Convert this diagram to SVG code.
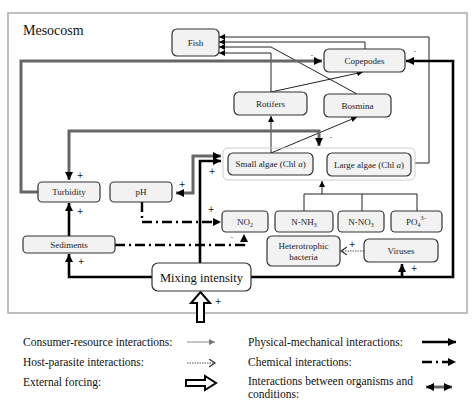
<svg xmlns="http://www.w3.org/2000/svg" width="474" height="404" viewBox="0 0 474 404">
<defs>
<style>
.box{fill:#f2f2f2;stroke:#333;stroke-width:1.2}
.lbl{font-family:"Liberation Serif",serif;font-size:9px;fill:#222;text-anchor:middle}
.leg{font-family:"Liberation Serif",serif;font-size:11.5px;fill:#111}
.sgn{font-family:"Liberation Serif",serif;font-size:7px;fill:#111;text-anchor:middle}
.pls{font-family:"DejaVu Sans",sans-serif;font-size:8px;fill:#111;text-anchor:middle}
.thin{fill:none;stroke:#222;stroke-width:1}
.blk{fill:none;stroke:#000;stroke-width:2.6}
.gry{fill:none;stroke:#666;stroke-width:3}
.chem{fill:none;stroke:#000;stroke-width:2.4;stroke-dasharray:10 4 2 4}
.dot{fill:none;stroke:#555;stroke-width:1;stroke-dasharray:1.5 1}
</style>
<marker id="as" markerUnits="userSpaceOnUse" markerWidth="7" markerHeight="7" refX="6" refY="3" orient="auto"><path d="M0,0 L6,3 L0,6 z" fill="#000"/></marker>
<marker id="ag" markerUnits="userSpaceOnUse" markerWidth="7" markerHeight="7" refX="6" refY="3" orient="auto"><path d="M0,0 L6,3 L0,6 z" fill="#777"/></marker>
<marker id="at" markerUnits="userSpaceOnUse" markerWidth="9" markerHeight="9" refX="8" refY="4" orient="auto"><path d="M0,0 L8,4 L0,8 z" fill="#000"/></marker>
<marker id="ats" markerUnits="userSpaceOnUse" markerWidth="9" markerHeight="9" refX="0" refY="4" orient="auto"><path d="M8,0 L0,4 L8,8 z" fill="#000"/></marker>
<marker id="ao" markerUnits="userSpaceOnUse" markerWidth="8" markerHeight="9" refX="6" refY="4" orient="auto"><path d="M0,0 L6,4 L0,8" fill="none" stroke="#333" stroke-width="1.2"/></marker>
</defs>
<rect width="474" height="404" fill="#fff"/>
<rect x="8" y="13" width="459" height="300" fill="none" stroke="#aaa" stroke-width="1.5"/>
<text x="23" y="35" font-family="Liberation Serif,serif" font-size="14" fill="#111">Mesocosm</text>

<g id="connectors">
<path class="thin" d="M415,163 H429 V37 H219" marker-end="url(#as)"/>
<path class="thin" d="M365,49 V42 H219" marker-end="url(#as)"/>
<path class="thin" d="M357,94 L271,47 H219" marker-end="url(#as)"/>
<path class="thin" d="M271,92 V53 H219" marker-end="url(#as)"/>
<path class="thin" d="M271,92 L363,72" marker-end="url(#as)"/>
<path class="thin" d="M271,153 V116" marker-end="url(#as)"/>
<path class="thin" d="M271,153 L357,117" marker-end="url(#as)"/>
<path class="thin" d="M304,211 V194 H417 V211 M362,211 V194 M322,194 V181" marker-end="url(#as)"/>
<path class="gry" d="M38,192 H21 V61 H322" marker-end="url(#at)"/>
<path class="gry" d="M319,146 V131 H69 V180" marker-start="url(#ats)" marker-end="url(#at)"/>
<path class="gry" d="M176,193 H193 V156 H221" marker-start="url(#ats)" marker-end="url(#at)"/>
<path class="blk" d="M200,263 V161 H221" marker-end="url(#at)"/>
<path class="blk" d="M69,236 V203" marker-end="url(#at)"/>
<path class="blk" d="M152,277 H69 V254" marker-end="url(#at)"/>
<path class="blk" d="M251,277 H453 V61 H406" marker-end="url(#at)"/>
<path class="blk" d="M402,277 V264" marker-end="url(#at)"/>
<path class="chem" d="M142,202 V222 H221" marker-end="url(#at)"/>
<path class="chem" d="M115,245 H244 V234" marker-end="url(#at)"/>
<path class="dot" d="M364,251 H341" marker-end="url(#ao)"/>
<path d="M197,322 V303 H191 L200.5,292 L210,303 H204 V322 z" fill="#fff" stroke="#000" stroke-width="2"/>
<text class="sgn" x="312" y="57">-</text>
<text class="sgn" x="415" y="53">-</text>
<text class="sgn" x="331" y="139">-</text>
<text class="pls" x="80" y="178">+</text>
<text class="pls" x="80" y="214">+</text>
<text class="pls" x="81" y="264">+</text>
<text class="pls" x="182" y="187">+</text>
<text class="pls" x="212" y="174">+</text>
<text class="pls" x="211" y="212">+</text>
<text class="sgn" x="232" y="239">-</text>
<text class="pls" x="352" y="247">+</text>
<text class="pls" x="414" y="271">+</text>
<text class="pls" x="218" y="304">+</text>
</g>

<rect id="algae-group" x="223" y="148" width="192" height="32" rx="5" fill="none" stroke="#ccc" stroke-width="1"/>

<g id="fish"><rect class="box" x="172" y="29" width="47" height="27" rx="5"/><text class="lbl" x="195.5" y="45.5">Fish</text></g>
<g id="copepodes"><rect class="box" x="324" y="49" width="81" height="23" rx="5"/><text class="lbl" x="364.5" y="63.5">Copepodes</text></g>
<g id="rotifers"><rect class="box" x="234" y="92" width="73" height="23" rx="5"/><text class="lbl" x="270.5" y="106.5">Rotifers</text></g>
<g id="bosmina"><rect class="box" x="324" y="94" width="67" height="23" rx="5"/><text class="lbl" x="357.5" y="108.5">Bosmina</text></g>
<g id="small-algae"><rect class="box" x="228" y="153" width="85" height="22" rx="5"/><text class="lbl" x="270.5" y="167">Small algae (Chl <tspan font-style="italic">a</tspan>)</text></g>
<g id="large-algae"><rect class="box" x="327" y="153" width="84" height="23" rx="5"/><text class="lbl" x="369" y="167.5">Large algae (Chl <tspan font-style="italic">a</tspan>)</text></g>
<g id="turbidity"><rect class="box" x="38" y="182" width="62" height="20" rx="4"/><text class="lbl" x="69" y="195">Turbidity</text></g>
<g id="ph"><rect class="box" x="110" y="182" width="62" height="20" rx="4"/><text class="lbl" x="141" y="195">pH</text></g>
<g id="no2"><rect class="box" x="222" y="211" width="46" height="21" rx="4"/><text class="lbl" x="245" y="224.5">NO<tspan font-size="6" dy="2">2</tspan></text></g>
<g id="nnh3"><rect class="box" x="275" y="211" width="58" height="21" rx="4"/><text class="lbl" x="304" y="224.5">N-NH<tspan font-size="6" dy="2">3</tspan></text></g>
<g id="nno3"><rect class="box" x="338" y="211" width="46" height="21" rx="4"/><text class="lbl" x="361" y="224.5">N-NO<tspan font-size="6" dy="2">3</tspan></text></g>
<g id="po4"><rect class="box" x="391" y="211" width="51" height="21" rx="4"/><text class="lbl" x="416.5" y="224.5">PO<tspan font-size="6" dy="2">4</tspan><tspan font-size="6" dy="-7">3−</tspan></text></g>
<g id="sediments"><rect class="box" x="23" y="236" width="92" height="17" rx="4"/><text class="lbl" x="69" y="247.5">Sediments</text></g>
<g id="bacteria"><rect class="box" x="267" y="236" width="73" height="30" rx="5"/><text class="lbl" x="303.5" y="249">Heterotrophic</text><text class="lbl" x="303.5" y="259.5">bacteria</text></g>
<g id="viruses"><rect class="box" x="364" y="239" width="74" height="23" rx="5"/><text class="lbl" x="401" y="253.5">Viruses</text></g>
<g id="mixing"><rect x="152" y="263" width="99" height="28" rx="6" fill="#fff" stroke="#333" stroke-width="1.2"/><text x="201.5" y="281.5" font-family="Liberation Serif,serif" font-size="12.5" fill="#111" text-anchor="middle">Mixing intensity</text></g>

<g id="legend">
<text class="leg" x="23" y="346">Consumer-resource interactions:</text>
<text class="leg" x="23" y="366">Host-parasite interactions:</text>
<text class="leg" x="23" y="386">External forcing:</text>
<text class="leg" x="248" y="346">Physical-mechanical interactions:</text>
<text class="leg" x="248" y="366">Chemical interactions:</text>
<text class="leg" x="248" y="385">Interactions between organisms and</text>
<text class="leg" x="248" y="398">conditions:</text>
<path d="M187,342 H215" fill="none" stroke="#888" stroke-width="1" marker-end="url(#ag)"/>
<path class="dot" d="M187,363 H215" marker-end="url(#ao)"/>
<path d="M186,380 H205 V376 L216,383 L205,390 V386 H186 z" fill="#fff" stroke="#000" stroke-width="2"/>
<path class="blk" d="M422,342 H456" marker-end="url(#at)"/>
<path class="chem" d="M422,362 H456" stroke-dasharray="7 4 2 4" marker-end="url(#at)"/>
<path class="gry" d="M426,387 H452" marker-start="url(#ats)" marker-end="url(#at)"/>
</g>
</svg>
